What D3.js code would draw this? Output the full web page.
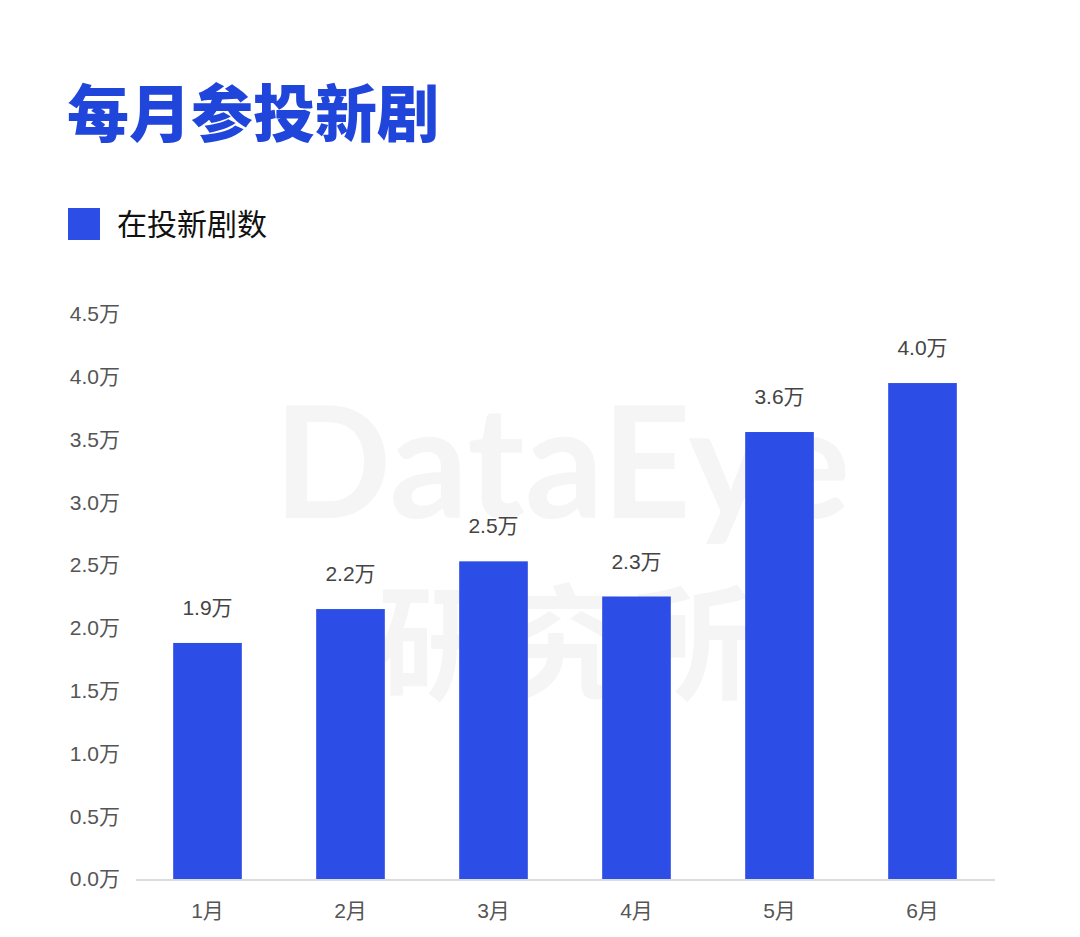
<!DOCTYPE html>
<html>
<head>
<meta charset="utf-8">
<script src="https://cdn.jsdelivr.net/npm/d3@7"></script>
<style>
  html, body { margin: 0; padding: 0; background: #fff; }
  svg { display: block; font-family: "Noto Sans CJK SC", "Noto Sans", sans-serif; }
  .ytick text, .xtick text { fill: #555; font-size: 21px; font-family: "Liberation Sans", "Noto Sans CJK SC", sans-serif; }
  .val { fill: #444; font-size: 21px; font-family: "Liberation Sans", "Noto Sans CJK SC", sans-serif; }
  .wm { fill: #f5f5f5; font-weight: 700; }
</style>
</head>
<body>
<svg id="chart" width="1080" height="937"></svg>
<script>
const months = ['1月', '2月', '3月', '4月', '5月', '6月'];
const values = [1.88, 2.15, 2.53, 2.25, 3.56, 3.95];
const valueLabels = ['1.9万', '2.2万', '2.5万', '2.3万', '3.6万', '4.0万'];
const yTicks = [0, 0.5, 1, 1.5, 2, 2.5, 3, 3.5, 4, 4.5];
const title = '每月参投新剧';
const seriesName = '在投新剧数';

const M = { t: 314, r: 86, b: 58, l: 136 };
const W = 1080, H = 937;
const BLUE = '#2c4de6';

const svg = d3.select('#chart');

// faint watermark, under everything
svg.append('text').attr('class', 'wm').attr('x', 562).attr('y', 518).attr('text-anchor', 'middle')
  .attr('font-size', 155).attr('font-family', 'Lato, sans-serif').text('DataEye');
svg.append('text').attr('class', 'wm').attr('x', 565).attr('y', 690).attr('text-anchor', 'middle')
  .attr('font-size', 125).text('研究所');

// title + legend
svg.append('text').attr('x', 67).attr('y', 137)
  .attr('font-size', 62).attr('font-weight', 900).attr('fill', '#1f45db')
  .text(title);
svg.append('rect').attr('x', 68).attr('y', 208).attr('width', 32).attr('height', 32).attr('fill', BLUE);
svg.append('text').attr('x', 117).attr('y', 235)
  .attr('font-size', 30).attr('fill', '#111').text(seriesName);

const x = d3.scaleBand().domain(months).range([M.l, W - M.r]).paddingInner(0.52).paddingOuter(0.26);
const y = d3.scaleLinear().domain([0, 4.5]).range([H - M.b, M.t]);

// y tick labels (no axis line / gridlines)
const gy = svg.append('g').attr('class', 'ytick');
gy.selectAll('text').data(yTicks).join('text')
  .attr('x', 120).attr('y', d => y(d)).attr('dy', '0.35em').attr('text-anchor', 'end')
  .text(d => d.toFixed(1) + '万');

// bars
svg.append('g').selectAll('rect').data(values).join('rect')
  .attr('x', (d, i) => x(months[i])).attr('width', x.bandwidth())
  .attr('y', d => y(d)).attr('height', d => y(0) - y(d))
  .attr('fill', BLUE);

// baseline
svg.append('line').attr('x1', M.l).attr('x2', W - M.r + 1)
  .attr('y1', y(0) + 1).attr('y2', y(0) + 1)
  .attr('stroke', '#dcdcdc').attr('stroke-width', 2);

// value labels
svg.append('g').selectAll('text').data(values).join('text')
  .attr('class', 'val').attr('text-anchor', 'middle')
  .attr('x', (d, i) => x(months[i]) + x.bandwidth() / 2)
  .attr('y', d => y(d) - 28)
  .text((d, i) => valueLabels[i]);

// month labels
const gx = svg.append('g').attr('class', 'xtick');
gx.selectAll('text').data(months).join('text')
  .attr('x', d => x(d) + x.bandwidth() / 2).attr('y', y(0) + 39)
  .attr('text-anchor', 'middle').text(d => d);
</script>
</body>
</html>
